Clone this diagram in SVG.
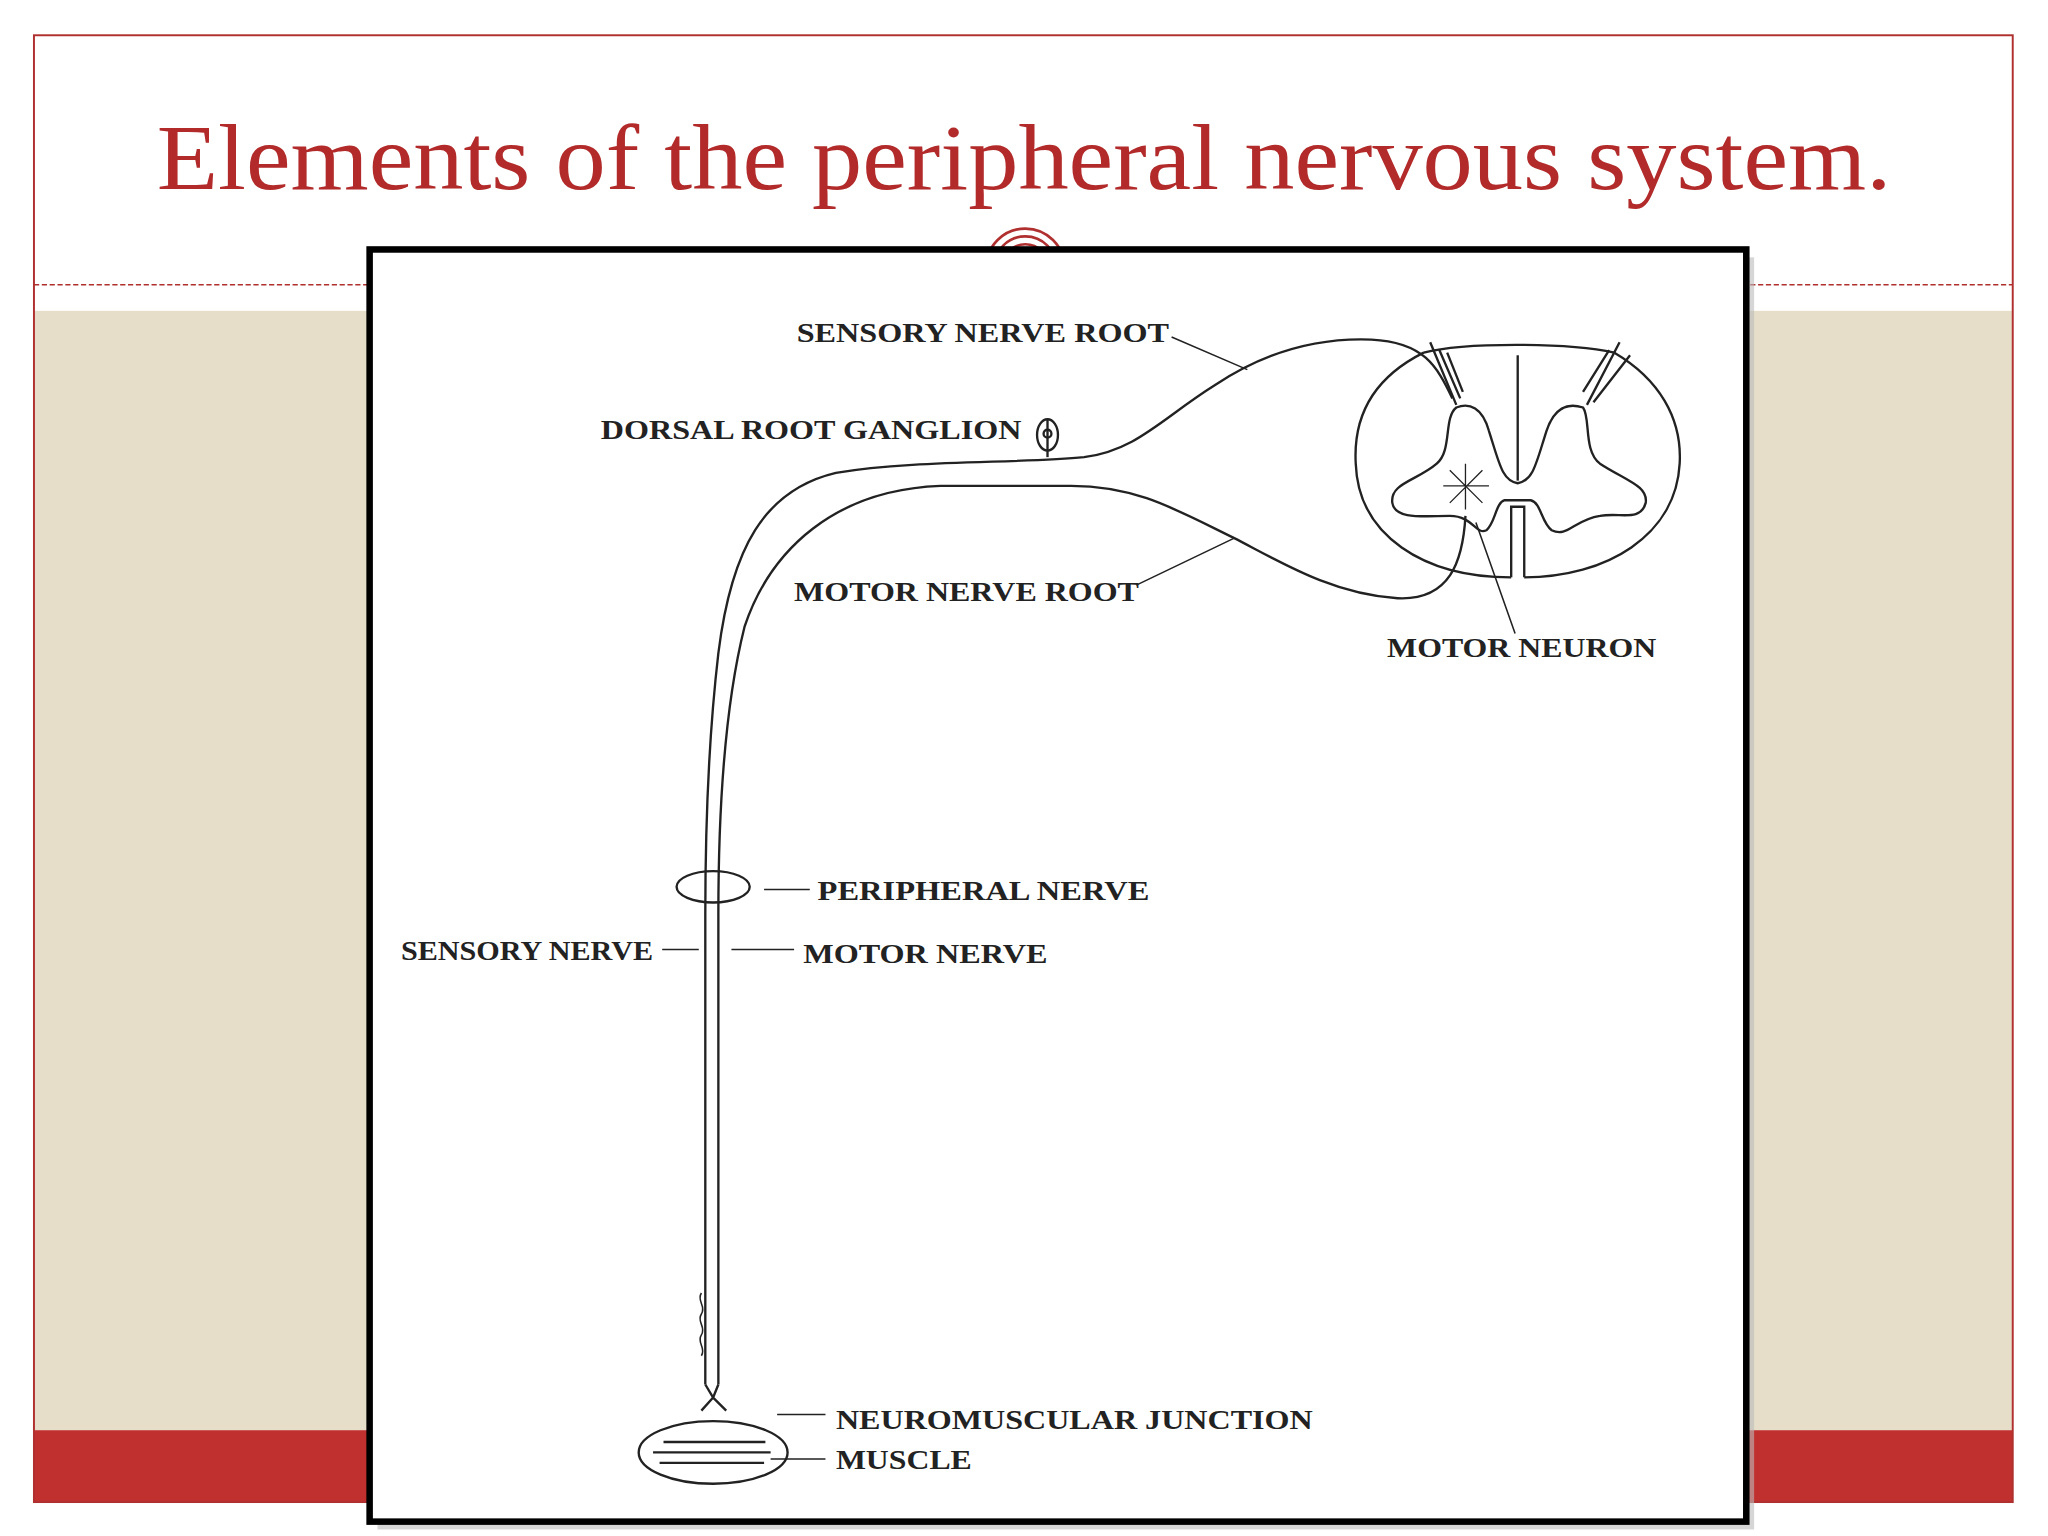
<svg xmlns="http://www.w3.org/2000/svg" width="2048" height="1536" viewBox="0 0 2048 1536">
<style>
.ln{fill:none;stroke:#222;stroke-width:1.8}
.lb{font-family:"Liberation Serif",serif;font-weight:bold;font-size:21px;fill:#222}
</style>
<rect width="2048" height="1536" fill="#fff"/>
<g transform="scale(1.30612)">
<g id="slide">
<rect x="26" y="238" width="1515" height="857" fill="#e6dec9"/>
<rect x="26" y="1095" width="1515" height="55" fill="#c0302e"/>
<rect x="26" y="27" width="1515" height="1123" fill="none" stroke="#b03030" stroke-width="1.5"/>
<line x1="26" y1="218" x2="1541" y2="218" stroke="#b03030" stroke-width="1.2" stroke-dasharray="4,2"/>
<g fill="none" stroke="#b03030" stroke-width="2"><circle cx="785" cy="205" r="30"/><circle cx="785" cy="205" r="24"/><circle cx="785" cy="205" r="18"/></g>
<text x="784" y="145" text-anchor="middle" font-family="Liberation Serif,serif" font-size="72" fill="#b22a2a" textLength="1328" lengthAdjust="spacingAndGlyphs">Elements of the peripheral nervous system.</text>
</g>
<g id="panel">
<rect x="289" y="197" width="1054" height="974" fill="#bbb" opacity="0.6"/>
<rect x="283" y="191" width="1054" height="974" fill="#fff" stroke="#000" stroke-width="5"/>
</g>
<g id="spinal-cord" class="ln">
<path d="M1090,270 C1120,262 1200,262 1236,270 C1270,290 1288,320 1286,355 C1283,410 1230,442 1167,442 M1157,442 C1090,442 1040,410 1038,355 C1036,320 1050,290 1090,270"/>
<line x1="1162" y1="272" x2="1162" y2="368"/>
<path d="M1115,312 C1125,308 1135,312 1140,330 C1148,355 1150,368 1162,370 C1174,368 1176,355 1184,330 C1190,312 1200,308 1212,312 C1218,320 1212,345 1225,355 C1245,368 1262,372 1260,385 C1256,400 1240,392 1225,395 C1205,398 1200,412 1188,406 C1180,400 1180,385 1172,383 L1152,383 C1145,385 1145,400 1138,406 C1130,410 1128,395 1110,395 C1090,395 1068,398 1066,385 C1064,370 1085,368 1100,355 C1112,345 1105,320 1115,312 Z"/>
<path d="M1157,442 L1157,388 L1167,388 L1167,442"/>
<path d="M1095,262 L1115,310 M1102,268 L1118,305 M1108,270 L1120,300"/>
<path d="M1240,262 L1215,310 M1248,272 L1220,308 M1232,268 L1212,300"/>
<path d="M1110,360 L1135,385 M1135,360 L1110,385 M1122,355 L1122,390 M1105,372 L1140,372" stroke-width="1"/>
</g>
<g id="connectors" class="ln">
<path d="M1112,305 C1100,280 1090,262 1050,260 C1000,258 960,275 930,295 C890,320 870,345 830,350 C780,355 700,352 640,362 C585,375 560,420 550,500 C543,560 540,620 540,700 L540,1060"/>
<path d="M1122,395 C1120,430 1110,460 1070,458 C1020,455 980,430 945,412 C900,390 870,372 820,372 L720,372 C640,375 590,420 570,480 C555,540 550,620 550,700 L550,1060"/>
<path d="M540,1060 L546,1070 M550,1060 L546,1070 M546,1070 L537,1080 M546,1070 L556,1080"/>
<path d="M537,990 c-4,6 4,10 0,16 c-4,6 4,10 0,16 c-4,6 4,10 0,16" stroke-width="1.2"/>
<path d="M802,321 L802,350"/>
<ellipse cx="802" cy="333" rx="8" ry="12"/>
<circle cx="802" cy="332" r="3"/>
<ellipse cx="546" cy="679" rx="28" ry="12"/>
<ellipse cx="546" cy="1112" rx="57" ry="24"/>
<path d="M508,1104 L586,1104 M500,1112 L590,1112 M505,1120 L585,1120"/>
<path d="M897,258 L955,283 M870,448 L945,412 M1160,485 L1130,400 M585,681 L620,681 M507,727 L535,727 M560,727 L608,727 M595,1083 L632,1083 M590,1117 L632,1117" stroke-width="1.2"/>
</g>
<g id="labels">
<text class="lb" x="610" y="262" textLength="285" lengthAdjust="spacingAndGlyphs">SENSORY NERVE ROOT</text>
<text class="lb" x="460" y="336" textLength="322" lengthAdjust="spacingAndGlyphs">DORSAL ROOT GANGLION</text>
<text class="lb" x="608" y="460" textLength="264" lengthAdjust="spacingAndGlyphs">MOTOR NERVE ROOT</text>
<text class="lb" x="1062" y="503" textLength="206" lengthAdjust="spacingAndGlyphs">MOTOR NEURON</text>
<text class="lb" x="626" y="689" textLength="254" lengthAdjust="spacingAndGlyphs">PERIPHERAL NERVE</text>
<text class="lb" x="307" y="735" textLength="193" lengthAdjust="spacingAndGlyphs">SENSORY NERVE</text>
<text class="lb" x="615" y="737" textLength="187" lengthAdjust="spacingAndGlyphs">MOTOR NERVE</text>
<text class="lb" x="640" y="1094" textLength="365" lengthAdjust="spacingAndGlyphs">NEUROMUSCULAR JUNCTION</text>
<text class="lb" x="640" y="1125" textLength="104" lengthAdjust="spacingAndGlyphs">MUSCLE</text>
</g>
</g>
</svg>
